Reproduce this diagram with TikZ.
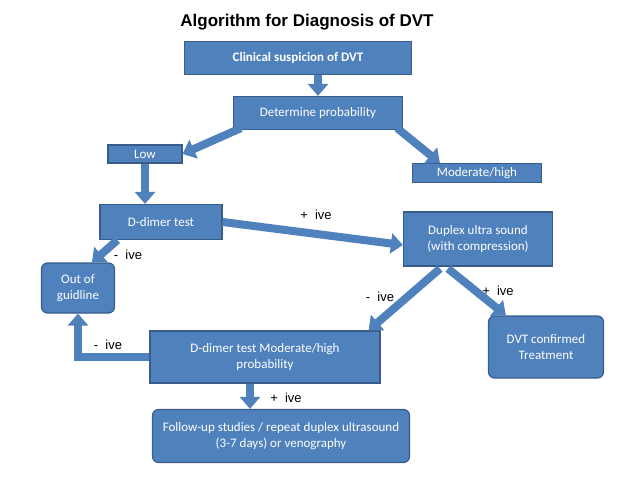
\documentclass[tikz,border=0pt]{standalone}
\usepackage{fontspec}
\setmainfont{Carlito}
\newfontfamily\arialf{Liberation Sans}
\usetikzlibrary{arrows.meta,calc}
\definecolor{bx}{HTML}{4F81BD}
\definecolor{bd}{HTML}{385D8A}
\begin{document}
\begin{tikzpicture}[x=1pt,y=-1pt,
 box/.style={draw=bd,line width=1.2pt,fill=bx,text=white,font=\fontsize{13}{15.5}\selectfont,align=center,inner sep=2pt},
 rbox/.style={box,rounded corners=6pt},
 fat/.style={draw=bx,line width=8pt,-{Triangle[width=20pt,length=12pt]}},
 lab/.style={font=\arialf\fontsize{13}{15}\selectfont}]
\useasboundingbox (0,0) rectangle (638,479);
\node[font=\arialf\bfseries\fontsize{17}{20}\selectfont] (title) at (307,22) {Algorithm for Diagnosis of DVT};
\node[box,font=\bfseries\fontsize{13}{15.5}\selectfont,minimum width=227pt,minimum height=33pt] (cs) at (298,58) {Clinical suspicion of DVT};
\node[box,minimum width=169pt,minimum height=33pt] (dp) at (318,113) {Determine probability};
\node[box,minimum width=74pt,minimum height=18pt,inner sep=0pt] (low) at (145,154) {Low};
\node[box,minimum width=129pt,minimum height=19pt,inner sep=0pt] (mh) at (477,173) {Moderate/high};
\node[box,minimum width=122pt,minimum height=35pt] (dd) at (161,222) {D-dimer test};
\node[box,minimum width=149pt,minimum height=54pt] (du) at (478,239) {Duplex ultra sound\\(with compression)};
\node[rbox,minimum width=73pt,minimum height=50pt] (out) at (78,288) {Out of\\guidline};
\node[box,minimum width=230pt,minimum height=52pt] (dd2) at (265,357) {D-dimer test Moderate/high\\probability};
\node[rbox,minimum width=115pt,minimum height=62pt] (dvt) at (546,347) {DVT confirmed\\Treatment};
\node[rbox,minimum width=257pt,minimum height=53pt] (fu) at (281,436) {Follow-up studies / repeat duplex ultrasound\\(3-7 days) or venography};
\draw[fat] (cs.south -| dp.north) -- (dp.north);
\draw[fat] ($(dp.south west)+(8,-2)$) -- (low.east);
\draw[fat] ($(dp.south east)+(-6,-2)$) -- ($(mh.north west)+(28,0)$);
\draw[fat] (low.south) -- (dd.north -| low.south);
\draw[fat] (dd.east) -- ($(du.west)+(0,6)$);
\draw[fat] ($(dd.south west)+(18,0)$) -- ($(out.north)+(14,0)$);
\draw[fat] ($(du.south)+(-38,2)$) -- ($(dd2.north east)+(-12,0)$);
\draw[fat] ($(du.south)+(-30,2)$) -- ($(dvt.north west)+(18,0)$);
\draw[fat] (dd2.west) -| (out.south);
\draw[fat] (dd2.south -| 250,0) -- (fu.north -| 250,0);
\node[lab] (l1) at (316,215) {+ \ ive};
\node[lab] (l2) at (128,255) {- \ ive};
\node[lab] (l3) at (380,297) {- \ ive};
\node[lab] (l4) at (498,291) {+ \ ive};
\node[lab] (l5) at (108,345) {- \ ive};
\node[lab] (l6) at (286,398) {+ \ ive};
\end{tikzpicture}
\end{document}
